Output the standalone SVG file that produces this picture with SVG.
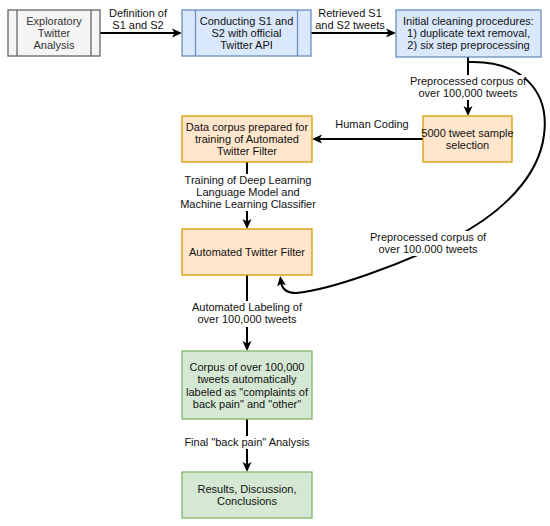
<svg xmlns="http://www.w3.org/2000/svg" width="550" height="526" viewBox="0 0 550 526">
<style>
text{font-family:"Liberation Sans",Arial,Helvetica,sans-serif;font-size:11px;fill:#111;text-anchor:middle}
.gray{fill:#f5f5f5;stroke:#666;stroke-width:1.3}
.blue{fill:#dae8fc;stroke:#6c8ebf;stroke-width:1.3}
.orange{fill:#ffe6cc;stroke:#d79b00;stroke-width:1.3}
.green{fill:#d5e8d4;stroke:#82b366;stroke-width:1.3}
.edge{fill:none;stroke:#000;stroke-width:2;marker-end:url(#arr)}
.bg{fill:#fff}
</style>
<defs>
<marker id="arr" viewBox="0 0 10 10" refX="4" refY="5" markerWidth="10" markerHeight="10" markerUnits="userSpaceOnUse" orient="auto">
<path d="M0,0.5 L10,5 L0,9.5 L2.5,5 Z" fill="#000"/>
</marker>
</defs>
<rect width="550" height="526" fill="#fff"/>
<g id="connectors">
<path class="edge" d="M100,33 L176,33"/>
<path class="edge" d="M311,33 L390,33"/>
<path class="edge" d="M468,57 L468,110"/>
<path class="edge" d="M423,139 L318,139"/>
<path class="edge" d="M247,162 L247,223"/>
<path class="edge" d="M468,62 C520,60 550,90 544,135 C539,175 505,212 450,240 C400,265 330,290 296,293 C287,293 282,289 281,282"/>
<path class="edge" d="M247,275 L247,345"/>
<path class="edge" d="M247,419 L247,466"/>
<rect class="bg" x="411" y="75" width="114" height="25"/>
<rect class="bg" x="181" y="174" width="133" height="37"/>
<rect class="bg" x="371" y="231" width="114" height="25"/>
<rect class="bg" x="193" y="301" width="108" height="26"/>
<rect class="bg" x="186" y="436" width="122" height="13"/>
</g>
<g id="edge-labels">
<text x="138" y="16.7">Definition of</text>
<text x="138" y="29">S1 and S2</text>
<text x="350" y="16.7">Retrieved S1</text>
<text x="350" y="29">and S2 tweets</text>
<text x="468" y="85">Preprocessed corpus of</text>
<text x="468" y="97">over 100,000 tweets</text>
<text x="372" y="128">Human Coding</text>
<text x="248" y="184">Training of Deep Learning</text>
<text x="248" y="196">Language Model and</text>
<text x="248" y="208">Machine Learning Classifier</text>
<text x="428" y="241">Preprocessed corpus of</text>
<text x="428" y="253">over 100.000 tweets</text>
<text x="247" y="311">Automated Labeling of</text>
<text x="247" y="323">over 100,000 tweets</text>
<text x="247" y="446">Final "back pain" Analysis</text>
</g>
<g id="n-exploratory">
<rect class="gray" x="8" y="10" width="92" height="46"/>
<line x1="17" y1="10" x2="17" y2="56" stroke="#666" stroke-width="1.3"/>
<line x1="91" y1="10" x2="91" y2="56" stroke="#666" stroke-width="1.3"/>
<text x="54" y="25" fill="#333" style="fill:#333">Exploratory</text>
<text x="54" y="37" style="fill:#333">Twitter</text>
<text x="54" y="49" style="fill:#333">Analysis</text>
</g>
<g id="n-conducting">
<rect class="blue" x="182" y="10" width="129" height="46"/>
<line x1="195.5" y1="10" x2="195.5" y2="56" stroke="#6c8ebf" stroke-width="1.3"/>
<line x1="297.5" y1="10" x2="297.5" y2="56" stroke="#6c8ebf" stroke-width="1.3"/>
<text x="246.5" y="25">Conducting S1 and</text>
<text x="246.5" y="37">S2 with official</text>
<text x="246.5" y="49">Twitter API</text>
</g>
<g id="n-cleaning">
<rect class="blue" x="396" y="10" width="145" height="47"/>
<text x="468.5" y="25">Initial cleaning procedures:</text>
<text x="468.5" y="37">1) duplicate text removal,</text>
<text x="468.5" y="49">2) six step preprocessing</text>
</g>
<g id="n-sample">
<rect class="orange" x="423" y="116" width="89" height="46"/>
<text x="467.5" y="137">5000 tweet sample</text>
<text x="467.5" y="149">selection</text>
</g>
<g id="n-datacorpus">
<rect class="orange" x="182" y="116" width="130" height="46"/>
<text x="247" y="131">Data corpus prepared for</text>
<text x="247" y="143">training of Automated</text>
<text x="247" y="155">Twitter Filter</text>
</g>
<g id="n-filter">
<rect class="orange" x="182" y="229" width="130" height="46"/>
<text x="247" y="256">Automated Twitter Filter</text>
</g>
<g id="n-labeled">
<rect class="green" x="182" y="351" width="130" height="68"/>
<text x="247" y="371">Corpus of over 100,000</text>
<text x="247" y="383.3">tweets automatically</text>
<text x="247" y="395.6">labeled as "complaints of</text>
<text x="247" y="408">back pain" and "other"</text>
</g>
<g id="n-results">
<rect class="green" x="182" y="472" width="130" height="46"/>
<text x="247" y="492.5">Results, Discussion,</text>
<text x="247" y="505">Conclusions</text>
</g>
</svg>
